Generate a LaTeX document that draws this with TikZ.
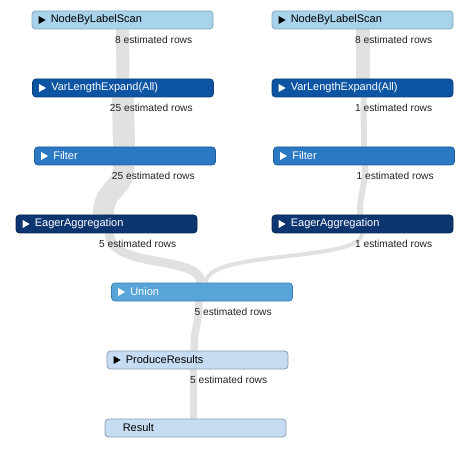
\documentclass[tikz,border=0pt]{standalone}
\usepackage{fontspec}
\setmainfont{Liberation Sans}
\definecolor{scanfill}{HTML}{A8D3EB}
\definecolor{scanline}{HTML}{7FA6BF}
\definecolor{expfill}{HTML}{0D55A3}
\definecolor{expline}{HTML}{0A3F7C}
\definecolor{filtfill}{HTML}{2B79C2}
\definecolor{filtline}{HTML}{1E5C9C}
\definecolor{aggfill}{HTML}{0D3671}
\definecolor{aggline}{HTML}{08244C}
\definecolor{unionfill}{HTML}{58A6D9}
\definecolor{unionline}{HTML}{3B80B0}
\definecolor{resfill}{HTML}{C6DCF2}
\definecolor{resline}{HTML}{8A9DB3}
\definecolor{bandgrey}{HTML}{E1E1E1}
\definecolor{rowtext}{HTML}{222222}
\tikzset{
  opbox/.style={rounded corners=3.5pt, minimum width=181pt, minimum height=18pt, inner sep=0pt, line width=0.8pt},
  scan/.style={opbox, fill=scanfill, draw=scanline},
  expand/.style={opbox, fill=expfill, draw=expline},
  filt/.style={opbox, fill=filtfill, draw=filtline},
  agg/.style={opbox, fill=aggfill, draw=aggline},
  uni/.style={opbox, fill=unionfill, draw=unionline},
  res/.style={opbox, fill=resfill, draw=resline},
  optext/.style={anchor=west, inner sep=0pt, font=\fontsize{11}{13}\selectfont},
  rows/.style={anchor=east, inner sep=0pt, text=rowtext, font=\fontsize{10.2}{12}\selectfont},
  band/.style={draw=bandgrey, line cap=butt}
}
\newcommand\opbox[6]{%
  \node[#3] (#1) at (#2) {};
  \fill[#5] ([xshift=7pt,yshift=4pt]#1.west) -- ([xshift=7pt,yshift=-4pt]#1.west) -- ([xshift=14pt]#1.west) -- cycle;
  \node[optext, text=#5] (#1t) at ([xshift=19pt]#1.west) {#4};
  \node[rows] (#1r) at ([xshift=-21pt,yshift=-20pt]#1.east) {#6};
}
\begin{document}
\begin{tikzpicture}[x=1pt,y=-1pt]
\useasboundingbox (0,0) rectangle (474,449);
% coordinates of boxes
\coordinate (pL1) at (122.5,20);
\coordinate (pL2) at (123,88);
\coordinate (pL3) at (125,156);
\coordinate (pL4) at (106.5,224);
\coordinate (pR1) at (362.5,20);
\coordinate (pR2) at (362.5,88);
\coordinate (pR3) at (364,156);
\coordinate (pR4) at (362.5,224);
\coordinate (pU) at (202,292);
\coordinate (pP) at (197.5,360);
\coordinate (pRes) at (195.5,428);
% invisible placement nodes for bands
\foreach \n in {L1,L2,L3,L4,R1,R2,R3,R4,U,P,Res}
  \node[opbox] (b\n) at (p\n) {};
% bands (y axis points down: +(0,d) moves down)
\draw[band, line width=13pt] (bL1.south) -- (bL2.north);
\draw[band, line width=22pt] (bL2.south) -- ([xshift=-1pt]bL3.north);
\draw[band, line width=21pt] ([xshift=-1pt]bL3.south) .. controls +(0,26) and +(0,-28) .. ([xshift=-3pt]bL4.north);
\draw[band, line width=9pt] ([xshift=3pt]bL4.south) .. controls +(0,36) and +(0,-28) .. ([xshift=-1pt]bU.north);
\draw[band, line width=14pt] (bR1.south) -- (bR2.north);
\draw[band, line width=6pt] ([xshift=1pt]bR2.south) -- ([xshift=0pt]bR3.north);
\draw[band, line width=6pt] ([xshift=1pt]bR3.south) .. controls +(0,25) and +(0,-25) .. ([xshift=-2.5pt]bR4.north);
\draw[band, line width=4pt] ([xshift=-0.5pt]bR4.south) .. controls +(0,29) and +(0,-33) .. ([xshift=4pt]bU.north);
\draw[band, line width=7.5pt] ([xshift=-3pt]bU.south) .. controls +(0,25) and +(0,-25) .. ([xshift=-3.5pt]bP.north);
\draw[band, line width=7.5pt] ([xshift=-4pt]bP.south) -- ([xshift=-2pt]bRes.north);
% operator boxes
\opbox{L1}{pL1}{scan}{NodeByLabelScan}{black}{8 estimated rows}
\opbox{L2}{pL2}{expand}{VarLengthExpand(All)}{white}{25 estimated rows}
\opbox{L3}{pL3}{filt}{Filter}{white}{25 estimated rows}
\opbox{L4}{pL4}{agg}{EagerAggregation}{white}{5 estimated rows}
\opbox{R1}{pR1}{scan}{NodeByLabelScan}{black}{8 estimated rows}
\opbox{R2}{pR2}{expand}{VarLengthExpand(All)}{white}{1 estimated rows}
\opbox{R3}{pR3}{filt}{Filter}{white}{1 estimated rows}
\opbox{R4}{pR4}{agg}{EagerAggregation}{white}{1 estimated rows}
\opbox{U}{pU}{uni}{Union}{white}{5 estimated rows}
\opbox{P}{pP}{res}{ProduceResults}{black}{5 estimated rows}
\node[res] (Res) at (pRes) {};
\node[optext, text=black] (Rest) at ([xshift=18pt]Res.west) {Result};
\end{tikzpicture}
\end{document}
